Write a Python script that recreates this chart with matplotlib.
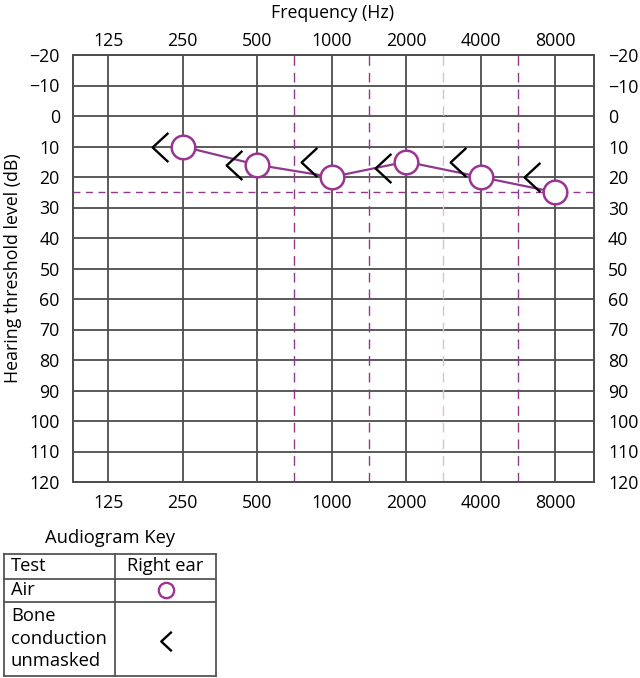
import numpy as np
import matplotlib
matplotlib.use("Agg")
import matplotlib.pyplot as plt
from matplotlib.path import Path
from matplotlib.transforms import offset_copy

plt.rcParams['font.family'] = ['Open Sans', 'DejaVu Sans']

# ---- data ----
freqs = [250, 500, 1000, 2000, 4000, 8000]
air_right = [10, 16, 20, 15, 20, 25]
bone_right = [10, 16, 15, 17, 15, 20]
tick_freqs = [125, 250, 500, 1000, 2000, 4000, 8000]
tick_freq_labels = ["125", "250", "500", "1000", "2000", "4000", "8000"]
db_ticks = list(range(-20, 121, 10))
db_labels = [("\u2212%d" % -v) if v < 0 else str(v) for v in db_ticks]
# inter-octave frequencies (750, 1500, 3000, 6000) drawn midway between octaves
interoctave_pairs = [(500, 1000), (1000, 2000), (2000, 4000), (4000, 8000)]
normal_limit = 25

W, H = 640, 678
fig = plt.figure(figsize=(W / 100, H / 100), dpi=100)
ax = fig.add_axes([73 / W, 1 - 482 / H, (594 - 73) / W, (482 - 55) / H])

PURPLE = '#9a3592'
LINE = '#8e3a8c'
GRID = '#4d4d4d'
FS = 12.8

ax.set_xscale('log', base=2)
ax.set_xlim(125 * 2 ** -0.474, 8000 * 2 ** 0.524)
ax.set_ylim(120, -20)

ax.set_xticks(tick_freqs)
ax.set_xticklabels(tick_freq_labels)
ax.xaxis.set_minor_locator(matplotlib.ticker.NullLocator())
ax.set_yticks(db_ticks)
ax.set_yticklabels(db_labels)
ax.tick_params(axis='both', length=0, labelsize=FS, colors='black')
ax.tick_params(axis='x', pad=9)
ax.tick_params(axis='y', pad=9.5)

top = ax.secondary_xaxis('top')
top.set_xticks(tick_freqs)
top.set_xticklabels(tick_freq_labels)
top.xaxis.set_minor_locator(matplotlib.ticker.NullLocator())
top.tick_params(length=0, labelsize=FS, pad=3.5)
top.spines['top'].set_visible(False)

right = ax.secondary_yaxis('right')
right.set_yticks(db_ticks)
right.set_yticklabels(db_labels)
right.tick_params(length=0, labelsize=FS, pad=10)
right.spines['right'].set_visible(False)

for f in tick_freqs:
    ax.axvline(f, color=GRID, lw=1.3, zorder=1)
for d in db_ticks:
    ax.axhline(d, color=GRID, lw=1.3, zorder=1)
for s in ax.spines.values():
    s.set_color(GRID)
    s.set_linewidth(1.4)

for lo, hi in interoctave_pairs:
    c = '#e0bcd8' if lo == 2000 else LINE
    ax.axvline(np.sqrt(lo * hi), color=c, lw=1.0, dashes=(7, 5), zorder=2)
ax.axhline(normal_limit, color=LINE, lw=1.0, dashes=(5, 4), zorder=2)

ax.plot(freqs, air_right, color=LINE, lw=1.6, zorder=3)
ax.plot(freqs, air_right, linestyle='none', marker='o', ms=17, mew=1.8,
        mec=PURPLE, mfc='white', zorder=4)

chev = Path([(0.27, 0.5), (-0.27, 0.0), (0.27, -0.5)],
            [Path.MOVETO, Path.LINETO, Path.LINETO])
tr = offset_copy(ax.transData, fig=fig, x=-23, y=0, units='dots')
ax.plot(freqs, bone_right, linestyle='none', marker=chev, ms=21, mew=1.7,
        mec='black', mfc='none', transform=tr, zorder=5)

fig.text(333 / W, 1 - 13 / H, "Frequency (Hz)", ha='center', va='center', fontsize=FS)
fig.text(13 / W, 1 - 268 / H, "Hearing threshold level (dB)", ha='center', va='center',
         rotation=90, fontsize=FS)

# ---- key ----
kax = fig.add_axes([0, 0, 1, 1], zorder=-1)
kax.set_xlim(0, W)
kax.set_ylim(H, 0)
kax.axis('off')
kax.text(110, 538, "Audiogram Key", ha='center', va='center', fontsize=13.2)
L, R, M = 3.5, 216, 115
T, r1, r2, B = 554, 578.5, 601.5, 675.5
kc = '#555555'
for y in (T, r1, r2, B):
    kax.plot([L, R], [y, y], color=kc, lw=1.3)
for x in (L, M, R):
    kax.plot([x, x], [T, B], color=kc, lw=1.3)
kax.text(11, (T + r1) / 2, "Test", ha='left', va='center', fontsize=13.2)
kax.text((M + R) / 2, (T + r1) / 2, "Right ear", ha='center', va='center', fontsize=13.2)
kax.text(11, (r1 + r2) / 2, "Air", ha='left', va='center', fontsize=13.2)
kax.text(11, (r2 + B) / 2, "Bone\nconduction\nunmasked", ha='left', va='center',
         fontsize=13.2, linespacing=1.3)
kax.plot([(M + R) / 2], [(r1 + r2) / 2], marker='o', ms=11, mew=1.7, mec=PURPLE, mfc='none')
kax.plot([(M + R) / 2], [(r2 + B) / 2 + 2], marker=chev, ms=14, mew=1.7, mec='black', mfc='none')

fig.savefig("out.png", dpi=100)
